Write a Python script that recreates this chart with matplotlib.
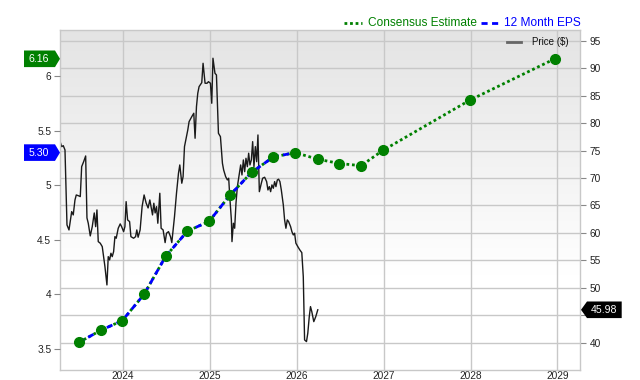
import matplotlib
matplotlib.use("Agg")
import matplotlib.pyplot as plt
import numpy as np
from matplotlib.lines import Line2D
from matplotlib.patches import Polygon

plt.rcParams['font.family'] = ['Liberation Sans', 'DejaVu Sans']

# ---------------- data ----------------
price_years = [2023.276, 2023.292, 2023.310, 2023.330, 2023.353, 2023.376, 2023.407, 2023.425,
               2023.445, 2023.460, 2023.491, 2023.506, 2023.522, 2023.545, 2023.568, 2023.583,
               2023.598, 2023.621, 2023.644, 2023.667, 2023.683, 2023.698, 2023.713, 2023.736,
               2023.759, 2023.775, 2023.790, 2023.813, 2023.828, 2023.844, 2023.859, 2023.874,
               2023.890, 2023.905, 2023.920, 2023.943, 2023.966, 2023.982, 2024.005, 2024.020,
               2024.034, 2024.051, 2024.074, 2024.089, 2024.120, 2024.143, 2024.157, 2024.172,
               2024.195, 2024.218, 2024.241, 2024.264, 2024.287, 2024.307, 2024.338, 2024.353,
               2024.368, 2024.384, 2024.399, 2024.422, 2024.437, 2024.460, 2024.483, 2024.499,
               2024.522, 2024.545, 2024.560, 2024.591, 2024.614, 2024.637, 2024.652, 2024.675,
               2024.690, 2024.706, 2024.729, 2024.744, 2024.759, 2024.790, 2024.813, 2024.828,
               2024.844, 2024.859, 2024.874, 2024.905, 2024.920, 2024.943, 2024.966, 2024.982,
               2025.005, 2025.020, 2025.034, 2025.057, 2025.074, 2025.097, 2025.120, 2025.143,
               2025.157, 2025.180, 2025.200, 2025.215, 2025.230, 2025.246, 2025.253, 2025.269,
               2025.284, 2025.299, 2025.315, 2025.338, 2025.353, 2025.368, 2025.384, 2025.399,
               2025.414, 2025.430, 2025.445, 2025.460, 2025.476, 2025.491, 2025.506, 2025.522,
               2025.537, 2025.552, 2025.568, 2025.591, 2025.606, 2025.629, 2025.652, 2025.667,
               2025.683, 2025.698, 2025.713, 2025.729, 2025.744, 2025.759, 2025.775, 2025.790,
               2025.805, 2025.821, 2025.844, 2025.859, 2025.874, 2025.890, 2025.905, 2025.928,
               2025.943, 2025.959, 2025.974, 2025.989, 2026.011, 2026.034, 2026.057, 2026.074,
               2026.089, 2026.111, 2026.126, 2026.143, 2026.157, 2026.172, 2026.195, 2026.218,
               2026.241]
price_values = [76.53, 75.73, 75.91, 75.13, 61.45, 60.54, 63.88, 63.28,
                66.01, 66.92, 66.74, 66.62, 72.08, 72.99, 74.03, 62.73,
                61.76, 59.45, 61.14, 63.64, 61.14, 64.19, 58.41, 58.12,
                57.50, 55.67, 53.85, 50.51, 55.67, 55.07, 56.29, 55.67,
                56.59, 59.32, 59.03, 60.85, 61.64, 61.14, 60.23, 61.14,
                65.70, 62.37, 62.06, 59.32, 59.03, 59.32, 60.54, 59.21,
                60.54, 64.79, 66.92, 65.46, 64.55, 66.01, 63.28, 65.41,
                63.64, 64.79, 61.76, 67.23, 60.85, 60.54, 58.23, 59.94,
                60.23, 59.32, 58.23, 62.97, 67.23, 70.88, 72.39, 69.06,
                70.26, 75.73, 77.55, 78.77, 80.29, 81.20, 81.82, 77.26,
                83.02, 85.46, 86.67, 87.40, 90.93, 87.29, 87.29, 87.58,
                87.29, 83.64, 91.85, 89.11, 88.80, 78.17, 77.55, 72.70,
                71.48, 70.26, 69.66, 69.97, 66.01, 62.37, 58.41, 61.76,
                60.85, 65.41, 68.44, 70.88, 72.39, 70.57, 73.30, 71.17,
                73.61, 72.08, 74.53, 72.39, 73.30, 76.64, 72.08, 75.73,
                72.99, 77.86, 67.52, 69.06, 69.97, 70.15, 69.35, 67.83,
                68.44, 67.52, 68.75, 68.14, 69.35, 68.44, 69.66, 69.79,
                69.35, 67.83, 65.10, 62.37, 60.85, 62.37, 62.06, 61.14,
                60.23, 59.63, 59.94, 58.12, 57.50, 56.90, 56.40, 52.03,
                40.49, 40.18, 41.71, 44.74, 46.56, 45.65, 43.82, 44.74,
                45.98]

eps_years = [2023.49, 2023.74, 2023.99, 2024.24, 2024.49, 2024.74, 2024.99,
             2025.23, 2025.48, 2025.73, 2025.98]
eps_values = [3.56, 3.67, 3.76, 4.00, 4.35, 4.58, 4.67, 4.91, 5.12, 5.26, 5.30]

est_years = [2025.98, 2026.24, 2026.49, 2026.74, 2026.99, 2027.99, 2028.97]
est_values = [5.30, 5.24, 5.20, 5.18, 5.32, 5.78, 6.16]

year_ticks = [2024, 2025, 2026, 2027, 2028, 2029]
eps_ticks = [3.5, 4, 4.5, 5, 5.5, 6]
eps_tick_labels = ["3.5", "4", "4.5", "5", "5.5", "6"]
price_ticks = [40, 45, 50, 55, 60, 65, 70, 75, 80, 85, 90, 95]
# the "45" label sits under the last-price tag in the reference
price_tick_labels = ["40", "", "50", "55", "60", "65", "70", "75", "80", "85", "90", "95"]

last_price_label = "45.98"
last_eps_label = "5.30"
final_est_label = "6.16"

# ---------------- figure ----------------
W, H = 640, 380
fig = plt.figure(figsize=(6.4, 3.8), dpi=100)
L, R, B, T = 60.3, 580.3, 10.0, 350.0
ax = fig.add_axes([L / W, B / H, (R - L) / W, (T - B) / H])

GREEN = "#008000"
BLUE = "#0000ff"
GRID = "#c8c8c8"
FS = 7.3

# gradient background
t = np.linspace(0, 1, 256)
vals = 0.893 + 0.107 * np.clip(t / 0.72, 0, 1)
grad = np.dstack([vals, vals, vals]).reshape(256, 1, 3)
ax.imshow(grad, extent=[0, 1, 0, 1], transform=ax.transAxes, aspect="auto", zorder=0)

ax.set_xlim(2023.276, 2029.264)
ax.set_ylim(35.0, 97.0)
ax.set_axisbelow(True)
ax.set_xticks(year_ticks)
ax.set_xticklabels([str(y) for y in year_ticks])
ax.set_yticks(price_ticks)
ax.set_yticklabels(price_tick_labels)
ax.grid(True, color=GRID, linewidth=1.0, zorder=0.5)
for s in ax.spines.values():
    s.set_color(GRID)
    s.set_linewidth(1.0)

ax.plot(price_years, price_values, color="#1a1a1a", linewidth=1.0, zorder=2)

ax2 = ax.twinx()
ax2.set_ylim(3.307, 6.424)
ax2.set_xlim(2023.276, 2029.264)
ax2.set_yticks(eps_ticks)
ax2.set_yticklabels(eps_tick_labels)
for s in ax2.spines.values():
    s.set_visible(False)

# price ticks on the right, EPS ticks on the left
ax.yaxis.set_ticks_position("right")
ax.yaxis.set_label_position("right")
ax2.yaxis.set_ticks_position("left")
ax2.yaxis.set_label_position("left")

ax.tick_params(axis="x", length=0, pad=1.0, labelsize=FS, colors="#222222")
ax.tick_params(axis="y", which="both", left=False, labelleft=False, right=True, labelright=True,
               length=4.5, width=0.8, color="#888888", pad=2, labelsize=FS,
               labelcolor="#222222")
ax2.tick_params(axis="y", which="both", right=False, labelright=False, left=True, labelleft=True,
                length=4.5, width=0.8, color="#888888", pad=2, labelsize=FS,
                labelcolor="#222222")

all_years = eps_years + est_years[1:]
all_values = eps_values + est_values[1:]
ax2.plot(all_years, all_values, color=GREEN, linestyle=(0, (1, 1)), linewidth=2.0, zorder=3)
ax2.plot(eps_years, eps_values, color=BLUE, linestyle=(0, (2.2, 1.6)), linewidth=2.0, zorder=4)
ax2.plot(all_years, all_values, linestyle="none", marker="o", markersize=7.0,
         markerfacecolor=GREEN, markeredgecolor=GREEN, zorder=5)

fig.canvas.draw()


def fx(px):
    return px / W


def fy(py_from_top):
    return (H - py_from_top) / H


def left_tag(yval, text, color):
    _, ypx = ax2.transData.transform((0, yval))
    h = 8.3
    x0, x1, tip = 24.0, 55.0, 60.0
    pts = [(x0, ypx - h), (x1, ypx - h), (tip, ypx), (x1, ypx + h), (x0, ypx + h)]
    pts = [(x / W, y / H) for x, y in pts]
    fig.patches.append(Polygon(pts, closed=True, transform=fig.transFigure,
                               facecolor=color, edgecolor="none", zorder=10))
    fig.text((x0 + x1) / 2 / W - 0.001, ypx / H, text, color="white", fontsize=7.6,
             ha="center", va="center", zorder=11)


def right_tag(yval, text, color):
    _, ypx = ax.transData.transform((0, yval))
    h = 8.3
    tip, x1, x2 = 581.0, 587.0, 621.7
    pts = [(tip, ypx), (x1, ypx + h), (x2, ypx + h), (x2, ypx - h), (x1, ypx - h)]
    pts = [(x / W, y / H) for x, y in pts]
    fig.patches.append(Polygon(pts, closed=True, transform=fig.transFigure,
                               facecolor=color, edgecolor="none", zorder=10))
    fig.text((x1 + x2) / 2 / W, ypx / H, text, color="white", fontsize=7.6,
             ha="center", va="center", zorder=11)


left_tag(est_values[-1], final_est_label, GREEN)
left_tag(eps_values[-1], last_eps_label, BLUE)
right_tag(price_values[-1], last_price_label, "black")

# top legend
ly = fy(23)
fig.add_artist(Line2D([fx(344), fx(362)], [ly, ly], transform=fig.transFigure,
                      color=GREEN, linestyle=(0, (1, 1)), linewidth=2.0))
fig.text(fx(367.5), ly, "Consensus Estimate", color=GREEN, fontsize=8.6, ha="left", va="center")
fig.add_artist(Line2D([fx(481), fx(500)], [ly, ly], transform=fig.transFigure,
                      color=BLUE, linestyle=(0, (2.2, 1.6)), linewidth=2.0))
fig.text(fx(504), ly, "12 Month EPS", color=BLUE, fontsize=8.6, ha="left", va="center")

# price legend
py = fy(41.7)
fig.add_artist(Line2D([fx(507), fx(521)], [py, py], transform=fig.transFigure,
                      color="#666666", linewidth=2.0, zorder=6))
fig.text(fx(532.5), py, "Price ($)", color="#111111", fontsize=7.0, ha="left", va="center",
         zorder=6)

fig.savefig("out.png", dpi=100)
